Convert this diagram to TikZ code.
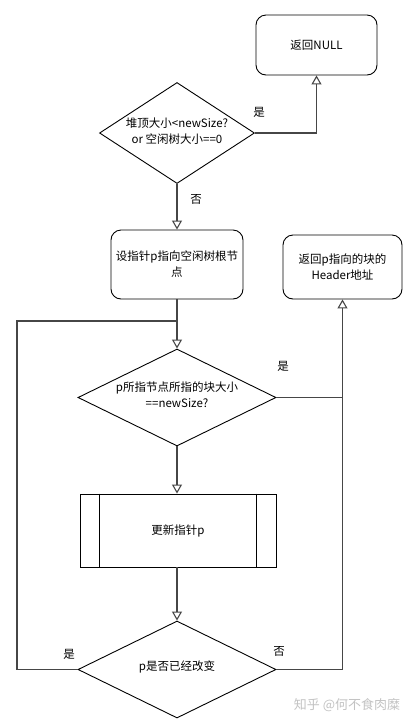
\documentclass[tikz,border=0pt]{standalone}
\usepackage{fontspec}
\setmainfont{Noto Sans CJK SC}
\usetikzlibrary{shapes.geometric,arrows.meta}
\definecolor{conn}{RGB}{70,70,70}
\definecolor{wm}{RGB}{195,195,195}
\tikzset{
  rbox/.style={draw=black, line width=0.9pt, rounded corners=10pt, inner sep=0pt, align=center, font=\fontsize{11.5}{16}\selectfont},
  pbox/.style={draw=black, line width=0.9pt, inner sep=0pt, align=center, font=\fontsize{11.5}{16}\selectfont},
  dia/.style={draw=black, line width=0.9pt, diamond, inner sep=0pt},
  dtext/.style={align=center, font=\fontsize{11.5}{16}\selectfont},
  lab/.style={font=\fontsize{11.5}{14}\selectfont},
  conn/.style={draw=conn, line width=1.1pt},
  arr/.style={conn, -{Triangle[open, length=9pt, width=10pt]}},
}
\begin{document}
\begin{tikzpicture}[x=1pt, y=-1pt]
\useasboundingbox[fill=white] (0,0) rectangle (413,724);
% nodes
\node[rbox, minimum width=121pt, minimum height=60pt] (nul) at (316.5,45) {返回NULL};
\node[dia, minimum width=155pt, minimum height=101pt] (d1) at (177,133) {};
\node[dtext] (d1t) at (177,131) {堆顶大小<newSize?\\or 空闲树大小==0};
\node[rbox, minimum width=132pt, minimum height=69pt] (set) at (177,264.5) {设指针p指向空闲树根节\\点};
\node[rbox, minimum width=119pt, minimum height=64pt] (hdr) at (342.5,267) {返回p指向的块的\\Header地址};
\node[dia, minimum width=198pt, minimum height=97pt] (d2) at (177,397.5) {};
\node[dtext] (d2t) at (177,395) {p所指节点所指的块大小\\==newSize?};
\node[pbox, minimum width=196pt, minimum height=73pt] (upd) at (178,530.5) {更新指针p};
\draw[line width=0.9pt] ([xshift=20pt]upd.north west) -- ([xshift=20pt]upd.south west);
\draw[line width=0.9pt] ([xshift=-20pt]upd.north east) -- ([xshift=-20pt]upd.south east);
\node[dia, minimum width=198pt, minimum height=97pt] (d3) at (177,669.5) {};
\node[dtext] (d3t) at (177,667) {p是否已经改变};
\coordinate (lp) at (17,321);
% connectors
\draw[arr] (d1.east) -| (nul.south);
\draw[arr] (d1.south) -- (set.north);
\draw[arr] (set.south) -- (d2.north);
\draw[arr] (d2.east) -| (hdr.south);
\draw[arr] (d2.south) -- (d2.south |- upd.north);
\draw[arr] (upd.south -| d3.north) -- (d3.north);
\draw[conn] (d3.west) -| (lp) -- (set.south |- lp);
\draw[conn] (d3.east) -| (hdr.south |- d2.east);
% labels
\node[lab] (l1) at (259,112) {是};
\node[lab] (l2) at (196,199) {否};
\node[lab] (l3) at (283,366) {是};
\node[lab] (l4) at (69,654) {是};
\node[lab] (l5) at (279,651) {否};
\node[text=wm, font=\fontsize{13}{15}\selectfont] (wmk) at (347,705) {知乎 @何不食肉糜};
\end{tikzpicture}
\end{document}
